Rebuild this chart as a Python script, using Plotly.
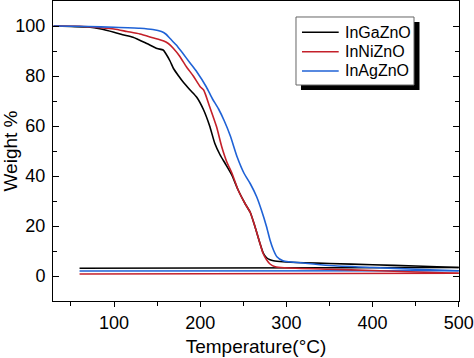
import plotly.graph_objects as go

# InGaZnO (black); last point = cooling return at low temperature
t_ga = [30, 50, 70, 85, 100, 110, 122, 138, 150, 157, 160, 165, 169, 175, 180, 188, 196, 204, 211, 217, 223, 229, 236.5, 244, 252, 258, 263.6, 269.4, 273, 277, 281, 285, 296, 320, 350, 400, 450, 500, 60]
w_ga = [100, 99.8, 99.6, 98.8, 97.5, 96.5, 95.5, 93, 91, 90.4, 89, 86, 83, 80, 77.7, 74.5, 71.5, 66.4, 60, 53, 48.5, 45, 40.5, 34.4, 29, 25.5, 19.7, 13, 9.3, 7.3, 6.5, 6.1, 5.7, 5.3, 5.0, 4.5, 4.0, 3.4, 3.1]

# InNiZnO (red)
t_ni = [30, 60, 85, 100, 115, 130, 145, 157, 163, 169, 176, 184, 192, 200, 204, 211, 219, 225, 231, 237, 244, 252, 258, 263.6, 269.4, 273, 277, 281, 287, 298, 350, 400, 450, 500, 60]
w_ni = [100, 99.9, 99.3, 98.8, 97.8, 96.8, 95.3, 94.1, 93, 91, 88, 83.7, 80, 75.7, 74.4, 67.7, 59.7, 51.7, 45.5, 41, 34.4, 29, 25.5, 19.7, 13, 9, 6.5, 4.8, 3.7, 3.3, 2.7, 2.2, 1.6, 1.1, 0.8]

# InAgZnO (blue)
t_ag = [30, 70, 100, 130, 145, 155, 160, 165, 172, 180, 188, 196, 207, 214, 221, 228, 235, 243, 251, 258, 265.5, 271, 277, 281, 285, 289, 296, 322, 350, 400, 450, 500, 60]
w_ag = [100, 99.8, 99.5, 99.1, 98.6, 97.8, 96.8, 95, 92.5, 89, 85.3, 81.7, 75.7, 71, 67, 62, 56, 47.5, 41, 37, 31.7, 26.4, 19.7, 14.4, 10.4, 7.7, 6.1, 5.1, 4.2, 3.4, 2.7, 2.1, 2.0]

names = ["InGaZnO", "InNiZnO", "InAgZnO"]
colors = ["#000000", "#c4202a", "#1f62d6"]

x_ticks = [100, 200, 300, 400, 500]
y_ticks = [0, 20, 40, 60, 80, 100]

FONT = "Liberation Sans, Arial, sans-serif"

fig = go.Figure()
for t, w, n, c in zip([t_ga, t_ni, t_ag], [w_ga, w_ni, w_ag], names, colors):
    # cooling return segment (drawn first, underneath)
    fig.add_trace(go.Scatter(x=t[-2:], y=w[-2:], mode="lines", showlegend=False,
                             line=dict(color=c, width=1.6), hoverinfo="skip"))
for t, w, n, c in zip([t_ga, t_ni, t_ag], [w_ga, w_ni, w_ag], names, colors):
    fig.add_trace(go.Scatter(x=t[:-1], y=w[:-1], mode="lines", name=n, showlegend=False,
                             line=dict(color=c, width=1.6, shape="spline", smoothing=0.6)))

# Legend drawn as shapes + annotations (box with drop shadow)
shapes = [
    dict(type="rect", xref="paper", yref="paper", x0=0.6108, x1=0.9027, y0=0.7033, y1=0.93,
         fillcolor="black", line=dict(width=0), layer="above"),
    dict(type="rect", xref="paper", yref="paper", x0=0.5985, x1=0.8892, y0=0.72, y1=0.9467,
         fillcolor="white", line=dict(color="#666666", width=1), layer="above"),
]
annotations = []
leg_y = [0.8957, 0.831, 0.7667]
for n, c, yy in zip(names, colors, leg_y):
    shapes.append(dict(type="line", xref="paper", yref="paper", x0=0.6133, x1=0.7037, y0=yy, y1=yy,
                       line=dict(color=c, width=1.6), layer="above"))
    annotations.append(dict(xref="paper", yref="paper", x=0.714, y=yy, xanchor="left", yanchor="middle",
                            text=n, showarrow=False, font=dict(size=16, family=FONT, color="black")))

fig.update_layout(
    width=474, height=358,
    margin=dict(l=53, r=15, t=1, b=57),
    paper_bgcolor="white", plot_bgcolor="white",
    font=dict(family=FONT, color="black"),
    showlegend=False,
    xaxis=dict(range=[29.2, 500.3], tickvals=x_ticks, ticktext=[str(v) for v in x_ticks],
               ticks="outside", ticklen=5, tickwidth=1, tickcolor="black",
               showline=True, linecolor="black", linewidth=1, mirror=True,
               showgrid=False, zeroline=False, automargin=False,
               tickfont=dict(size=18, family=FONT),
               minor=dict(tickvals=[50, 150, 250, 350, 450], ticks="outside", ticklen=4, tickcolor="black"),
               title=dict(text="Temperature(°C)", font=dict(size=19, family=FONT), standoff=8)),
    xaxis2=dict(range=[29.2, 500.3], overlaying="x", side="top", anchor="y",
                tickvals=[50, 100, 150, 200, 250, 300, 350, 400, 450, 500],
                ticks="inside", ticklen=5, tickcolor="black", showticklabels=False,
                showgrid=False, zeroline=False, showline=False, automargin=False),
    yaxis=dict(range=[-10, 110], tickvals=y_ticks, ticktext=[str(v) for v in y_ticks],
               ticks="inside", ticklen=6, tickwidth=1, tickcolor="black",
               showline=True, linecolor="black", linewidth=1, mirror="ticks",
               showgrid=False, zeroline=False, automargin=False,
               tickfont=dict(size=18, family=FONT), ticklabelstandoff=3,
               minor=dict(tickvals=[-10, 10, 30, 50, 70, 90, 110], ticks="inside", ticklen=4, tickcolor="black"),
               title=dict(text="Weight %", font=dict(size=19, family=FONT), standoff=2)),
    shapes=shapes,
    annotations=annotations,
)

fig.write_html("out.html", config={"displayModeBar": False},
               post_script="document.body.style.margin='0px';")
